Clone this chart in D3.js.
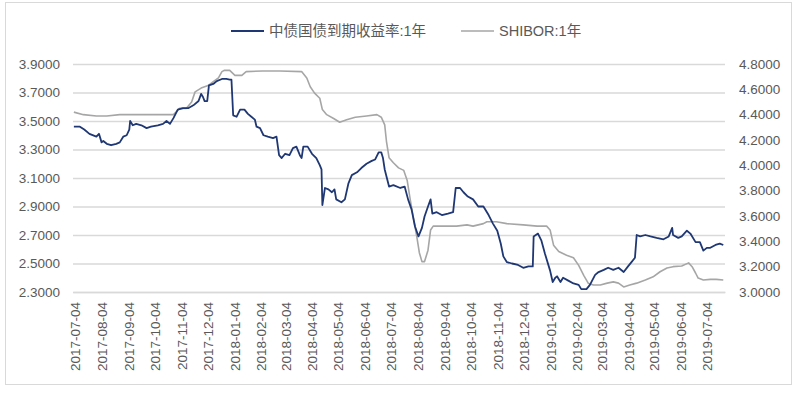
<!DOCTYPE html>
<html>
<head>
<meta charset="utf-8">
<script src="https://cdn.jsdelivr.net/npm/d3@7.9.0/dist/d3.min.js"></script>
<style>
  html, body { margin: 0; padding: 0; background: #fff; }
  svg { display: block; }
  text { font-family: "Liberation Sans", Arial, "Noto Sans CJK SC", sans-serif; fill: #595959; }
</style>
</head>
<body>
<div id="chart"></div>
<script>
// 中债国债到期收益率:1年 (left axis)
const bondDates = [
  '2017-07-03','2017-07-10','2017-07-15','2017-07-21','2017-07-29','2017-08-01','2017-08-04','2017-08-06',
  '2017-08-10','2017-08-15','2017-08-21','2017-08-25','2017-08-29','2017-09-02','2017-09-05','2017-09-06',
  '2017-09-09','2017-09-13','2017-09-19','2017-09-25','2017-09-30','2017-10-08','2017-10-14','2017-10-18',
  '2017-10-22','2017-10-26','2017-10-31','2017-11-06','2017-11-12','2017-11-18','2017-11-24','2017-11-27',
  '2017-11-29','2017-12-01','2017-12-04','2017-12-06','2017-12-11','2017-12-15','2017-12-21','2017-12-26',
  '2017-12-30','2018-01-01','2018-01-03','2018-01-07','2018-01-11','2018-01-16','2018-01-20','2018-01-24',
  '2018-01-28','2018-01-30','2018-02-03','2018-02-07','2018-02-12','2018-02-18','2018-02-22','2018-02-25',
  '2018-02-28','2018-03-04','2018-03-09','2018-03-13','2018-03-17','2018-03-21','2018-03-23','2018-03-25',
  '2018-03-30','2018-04-04','2018-04-09','2018-04-13','2018-04-15','2018-04-16','2018-04-19','2018-04-23',
  '2018-04-27','2018-04-30','2018-05-02','2018-05-08','2018-05-12','2018-05-16','2018-05-20','2018-05-26',
  '2018-05-31','2018-06-06','2018-06-12','2018-06-16','2018-06-20','2018-06-23','2018-06-25','2018-06-27',
  '2018-07-02','2018-07-07','2018-07-15','2018-07-20','2018-07-24','2018-07-28','2018-08-01','2018-08-05',
  '2018-08-09','2018-08-12','2018-08-16','2018-08-19','2018-08-21','2018-08-26','2018-09-01','2018-09-08',
  '2018-09-14','2018-09-17','2018-09-22','2018-09-26','2018-10-01','2018-10-07','2018-10-13','2018-10-19',
  '2018-10-25','2018-10-30','2018-11-04','2018-11-08','2018-11-11','2018-11-15','2018-11-21','2018-11-28',
  '2018-12-04','2018-12-10','2018-12-15','2018-12-16','2018-12-21','2018-12-25','2018-12-29','2019-01-04',
  '2019-01-07','2019-01-10','2019-01-12','2019-01-16','2019-01-19','2019-01-25','2019-01-31','2019-02-06',
  '2019-02-09','2019-02-15','2019-02-19','2019-02-25','2019-03-01','2019-03-07','2019-03-12','2019-03-18',
  '2019-03-24','2019-03-30','2019-04-04','2019-04-08','2019-04-12','2019-04-14','2019-04-18','2019-04-24',
  '2019-04-30','2019-05-07','2019-05-15','2019-05-21','2019-05-25','2019-05-26','2019-06-01','2019-06-05',
  '2019-06-11','2019-06-15','2019-06-21','2019-06-26','2019-06-30','2019-07-04','2019-07-08','2019-07-14',
  '2019-07-19','2019-07-23'
];
const bondValues = [
  3.46, 3.46, 3.44, 3.41, 3.39, 3.41, 3.35, 3.36,
  3.34, 3.33, 3.34, 3.35, 3.39, 3.40, 3.44, 3.50,
  3.47, 3.48, 3.47, 3.45, 3.46, 3.47, 3.48, 3.50,
  3.48, 3.52, 3.58, 3.59, 3.59, 3.61, 3.64, 3.69,
  3.67, 3.64, 3.64, 3.75, 3.76, 3.78, 3.795, 3.795,
  3.79, 3.79, 3.54, 3.53, 3.58, 3.58, 3.55, 3.53,
  3.51, 3.46, 3.45, 3.40, 3.39, 3.38, 3.39, 3.26,
  3.24, 3.27, 3.26, 3.31, 3.32, 3.26, 3.24, 3.32,
  3.32, 3.27, 3.24, 3.19, 3.16, 2.91, 3.03, 3.02,
  3.00, 3.02, 2.95, 2.93, 2.95, 3.06, 3.12, 3.14,
  3.17, 3.20, 3.22, 3.23, 3.28, 3.28, 3.24, 3.16,
  3.04, 3.05, 3.03, 3.04, 2.95, 2.88, 2.76, 2.69,
  2.75, 2.83, 2.90, 2.95, 2.85, 2.86, 2.84, 2.85,
  2.86, 3.03, 3.03, 3.00, 2.97, 2.95, 2.90, 2.90,
  2.84, 2.78, 2.73, 2.64, 2.55, 2.51, 2.50, 2.49,
  2.47, 2.48, 2.48, 2.69, 2.71, 2.66, 2.57, 2.45,
  2.37, 2.40, 2.41, 2.37, 2.40, 2.38, 2.36, 2.35,
  2.32, 2.32, 2.35, 2.42, 2.44, 2.455, 2.47, 2.455,
  2.47, 2.44, 2.48, 2.51, 2.54, 2.70, 2.69, 2.70,
  2.69, 2.68, 2.67, 2.69, 2.75, 2.70, 2.68, 2.69,
  2.73, 2.71, 2.65, 2.65, 2.59, 2.61, 2.61, 2.63,
  2.64, 2.63
];

// SHIBOR:1年 (right axis)
const shiborDates = [
  '2017-07-03','2017-07-14','2017-07-29','2017-08-10','2017-08-25','2017-09-09','2017-09-30','2017-10-26',
  '2017-10-29','2017-11-02','2017-11-10','2017-11-16','2017-11-20','2017-11-27','2017-12-05','2017-12-11',
  '2017-12-17','2017-12-21','2017-12-24','2017-12-30','2018-01-05','2018-01-13','2018-01-18','2018-02-06',
  '2018-02-26','2018-03-23','2018-03-29','2018-04-02','2018-04-07','2018-04-13','2018-04-16','2018-04-21',
  '2018-04-29','2018-05-06','2018-05-14','2018-05-24','2018-06-06','2018-06-18','2018-06-23','2018-06-27',
  '2018-06-29','2018-07-02','2018-07-07','2018-07-13','2018-07-19','2018-07-23','2018-07-26','2018-07-30',
  '2018-08-03','2018-08-06','2018-08-09','2018-08-12','2018-08-16','2018-08-19','2018-08-22','2018-09-07',
  '2018-09-18','2018-09-30','2018-10-07','2018-10-19','2018-10-23','2018-11-03','2018-11-15','2018-12-04',
  '2018-12-20','2018-12-31','2019-01-04','2019-01-08','2019-01-14','2019-01-23','2019-01-31','2019-02-06',
  '2019-02-12','2019-02-17','2019-02-23','2019-03-03','2019-03-11','2019-03-18','2019-03-24','2019-03-30',
  '2019-04-06','2019-04-14','2019-04-24','2019-05-03','2019-05-11','2019-05-19','2019-05-26','2019-06-05',
  '2019-06-13','2019-06-17','2019-06-21','2019-06-24','2019-06-30','2019-07-08','2019-07-15','2019-07-23'
];
const shiborValues = [
  4.42, 4.40, 4.39, 4.39, 4.40, 4.40, 4.40, 4.40,
  4.42, 4.45, 4.45, 4.50, 4.58, 4.61, 4.63, 4.66,
  4.69, 4.74, 4.75, 4.75, 4.71, 4.71, 4.74, 4.745,
  4.745, 4.74, 4.69, 4.62, 4.57, 4.53, 4.44, 4.40,
  4.37, 4.34, 4.36, 4.38, 4.39, 4.40, 4.38, 4.32,
  4.19, 4.06, 4.02, 3.98, 3.96, 3.88, 3.75, 3.59,
  3.44, 3.31, 3.24, 3.24, 3.33, 3.49, 3.52, 3.52,
  3.52, 3.53, 3.52, 3.54, 3.555, 3.555, 3.54, 3.53,
  3.52, 3.52, 3.49, 3.37, 3.32, 3.29, 3.27, 3.21,
  3.13, 3.07, 3.055, 3.055, 3.07, 3.08, 3.07, 3.04,
  3.055, 3.07, 3.095, 3.12, 3.16, 3.19, 3.20, 3.205,
  3.23, 3.20, 3.15, 3.11, 3.095, 3.10, 3.10, 3.095
];

const xTickLabels = [
  '2017-07-04','2017-08-04','2017-09-04','2017-10-04','2017-11-04','2017-12-04','2018-01-04','2018-02-04',
  '2018-03-04','2018-04-04','2018-05-04','2018-06-04','2018-07-04','2018-08-04','2018-09-04','2018-10-04',
  '2018-11-04','2018-12-04','2019-01-04','2019-02-04','2019-03-04','2019-04-04','2019-05-04','2019-06-04',
  '2019-07-04'
];
const leftTicks = [2.3, 2.5, 2.7, 2.9, 3.1, 3.3, 3.5, 3.7, 3.9];
const rightTicks = [3.0, 3.2, 3.4, 3.6, 3.8, 4.0, 4.2, 4.4, 4.6, 4.8];
const seriesNames = ['中债国债到期收益率:1年', 'SHIBOR:1年'];
const seriesColors = ['#1f3773', '#a6a6a6'];

const width = 799;
const height = 393;
const plot = { left: 73, right: 725, top: 64, bottom: 292 };

const parse = d3.timeParse('%Y-%m-%d');
const bond = bondDates.map((d, i) => ({ date: parse(d), value: bondValues[i] }));
const shibor = shiborDates.map((d, i) => ({ date: parse(d), value: shiborValues[i] }));

const svg = d3.select('#chart').append('svg')
  .attr('width', width)
  .attr('height', height);

// outer frame
svg.append('rect')
  .attr('x', 5.5).attr('y', 2.5)
  .attr('width', 786).attr('height', 382)
  .attr('fill', 'none')
  .attr('stroke', '#d9d9d9');

const x = d3.scaleTime()
  .domain([parse('2017-07-02'), parse('2019-07-25')])
  .range([plot.left, plot.right]);
const yLeft = d3.scaleLinear().domain([2.3, 3.9]).range([plot.bottom, plot.top]);
const yRight = d3.scaleLinear().domain([3.0, 4.8]).range([plot.bottom, plot.top]);

// gridlines
svg.append('g')
  .attr('class', 'grid')
  .attr('transform', `translate(${plot.left},0)`)
  .call(d3.axisLeft(yLeft).tickValues(leftTicks).tickFormat('').tickSize(-(plot.right - plot.left)))
  .call((g) => g.select('.domain').remove())
  .call((g) => g.selectAll('line').attr('stroke', '#d9d9d9').attr('stroke-width', 1.3));

// left axis labels
svg.append('g')
  .attr('transform', `translate(${plot.left},0)`)
  .call(d3.axisLeft(yLeft).tickValues(leftTicks).tickFormat(d3.format('.4f')).tickSize(0).tickPadding(13))
  .call((g) => g.select('.domain').remove())
  .call((g) => g.selectAll('text').attr('font-size', 13.5).attr('fill', '#595959')
    .style('font-family', '"Liberation Sans", Arial, sans-serif'));

// right axis labels
svg.append('g')
  .attr('transform', `translate(${plot.right},0)`)
  .call(d3.axisRight(yRight).tickValues(rightTicks).tickFormat(d3.format('.4f')).tickSize(0).tickPadding(14))
  .call((g) => g.select('.domain').remove())
  .call((g) => g.selectAll('text').attr('font-size', 13.5).attr('fill', '#595959')
    .style('font-family', '"Liberation Sans", Arial, sans-serif'));

// x axis
svg.append('g')
  .attr('transform', `translate(0,${plot.bottom})`)
  .call(d3.axisBottom(x).tickValues(xTickLabels.map(parse)).tickFormat(d3.timeFormat('%Y-%m-%d')).tickSize(0))
  .call((g) => g.select('.domain').attr('stroke', '#d9d9d9').attr('stroke-width', 1.3))
  .call((g) => g.selectAll('text')
    .attr('font-size', 13.5)
    .attr('fill', '#595959')
    .style('font-family', '"Liberation Sans", Arial, sans-serif')
    .attr('text-anchor', 'end')
    .attr('dy', null)
    .attr('y', 0)
    .attr('transform', 'translate(5,10) rotate(-90)'));

// lines
const lineLeft = d3.line().x((d) => x(d.date)).y((d) => yLeft(d.value));
const lineRight = d3.line().x((d) => x(d.date)).y((d) => yRight(d.value));

svg.append('path')
  .datum(shibor)
  .attr('fill', 'none')
  .attr('stroke', seriesColors[1])
  .attr('stroke-width', 1.6)
  .attr('stroke-linejoin', 'round')
  .attr('d', lineRight);

svg.append('path')
  .datum(bond)
  .attr('fill', 'none')
  .attr('stroke', seriesColors[0])
  .attr('stroke-width', 1.8)
  .attr('stroke-linejoin', 'round')
  .attr('d', lineLeft);

// legend
const legendItems = [
  { name: seriesNames[0], color: seriesColors[0], x: 231, width: 1.8 },
  { name: seriesNames[1], color: seriesColors[1], x: 461, width: 1.6 },
];
const legend = svg.append('g').attr('class', 'legend');
const items = legend.selectAll('g').data(legendItems).join('g')
  .attr('transform', (d) => `translate(${d.x},31)`);
items.append('line')
  .attr('x1', 0).attr('x2', 33)
  .attr('stroke', (d) => d.color)
  .attr('stroke-width', (d) => d.width);
items.append('text')
  .attr('x', 38)
  .attr('dy', '0.35em')
  .attr('font-size', 14.5)
  .text((d) => d.name);
</script>
</body>
</html>
